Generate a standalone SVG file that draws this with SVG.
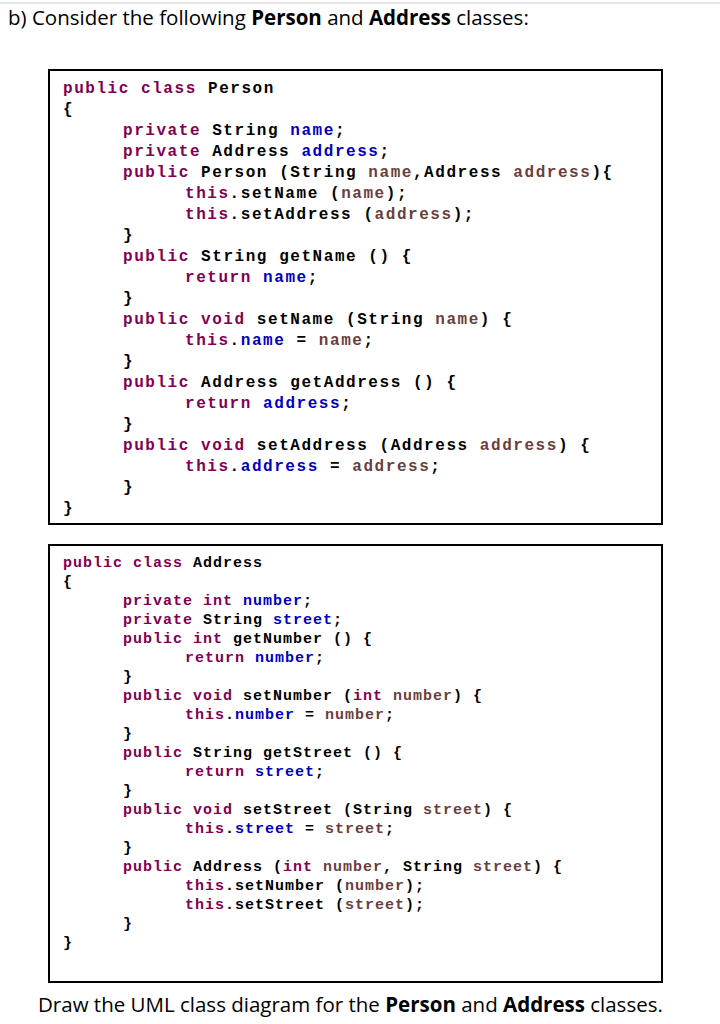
<svg xmlns="http://www.w3.org/2000/svg" width="720" height="1024" viewBox="0 0 720 1024">
<style>
.h{font-family:"Open Sans","Liberation Sans",sans-serif;font-size:20.5px;fill:#000}
.c1{font-family:"Liberation Mono","Courier New",monospace;font-weight:bold;font-size:16px;letter-spacing:1.55px;fill:#000}
.c2{font-family:"Liberation Mono","Courier New",monospace;font-weight:bold;font-size:15px;letter-spacing:1px;fill:#000}
.k{fill:#7f0055}.f{fill:#0000c0}.p{fill:#6a3e3e}
.box{fill:#fff;stroke:#000;stroke-width:2}
</style>
<rect width="720" height="1024" fill="#fff"/>
<line x1="0" y1="3" x2="720" y2="3" stroke="#ccc" stroke-width="1"/>
<text class="h" x="8" y="25">b) Consider the following <tspan font-weight="bold">Person</tspan> and <tspan font-weight="bold">Address</tspan> classes:</text>
<g id="person">
<rect class="box" x="49" y="70" width="613" height="454"/>
<g class="c1">
<text x="63" y="93"><tspan class="k">public class</tspan> Person</text>
<text x="63" y="114">{</text>
<text x="123" y="135"><tspan class="k">private</tspan> String <tspan class="f">name</tspan>;</text>
<text x="123" y="156"><tspan class="k">private</tspan> Address <tspan class="f">address</tspan>;</text>
<text x="123" y="177"><tspan class="k">public</tspan> Person (String <tspan class="p">name</tspan>,Address <tspan class="p">address</tspan>){</text>
<text x="185" y="198"><tspan class="k">this</tspan>.setName (<tspan class="p">name</tspan>);</text>
<text x="185" y="219"><tspan class="k">this</tspan>.setAddress (<tspan class="p">address</tspan>);</text>
<text x="123" y="240">}</text>
<text x="123" y="261"><tspan class="k">public</tspan> String getName () {</text>
<text x="185" y="282"><tspan class="k">return</tspan> <tspan class="f">name</tspan>;</text>
<text x="123" y="303">}</text>
<text x="123" y="324"><tspan class="k">public void</tspan> setName (String <tspan class="p">name</tspan>) {</text>
<text x="185" y="345"><tspan class="k">this</tspan>.<tspan class="f">name</tspan> = <tspan class="p">name</tspan>;</text>
<text x="123" y="366">}</text>
<text x="123" y="387"><tspan class="k">public</tspan> Address getAddress () {</text>
<text x="185" y="408"><tspan class="k">return</tspan> <tspan class="f">address</tspan>;</text>
<text x="123" y="429">}</text>
<text x="123" y="450"><tspan class="k">public void</tspan> setAddress (Address <tspan class="p">address</tspan>) {</text>
<text x="185" y="471"><tspan class="k">this</tspan>.<tspan class="f">address</tspan> = <tspan class="p">address</tspan>;</text>
<text x="123" y="492">}</text>
<text x="63" y="513">}</text>
</g>
</g>
<g id="address">
<rect class="box" x="49" y="545" width="613" height="437"/>
<g class="c2">
<text x="63" y="567"><tspan class="k">public class</tspan> Address</text>
<text x="63" y="586">{</text>
<text x="123" y="605"><tspan class="k">private int</tspan> <tspan class="f">number</tspan>;</text>
<text x="123" y="624"><tspan class="k">private</tspan> String <tspan class="f">street</tspan>;</text>
<text x="123" y="643"><tspan class="k">public int</tspan> getNumber () {</text>
<text x="185" y="662"><tspan class="k">return</tspan> <tspan class="f">number</tspan>;</text>
<text x="123" y="681">}</text>
<text x="123" y="700"><tspan class="k">public void</tspan> setNumber (<tspan class="k">int</tspan> <tspan class="p">number</tspan>) {</text>
<text x="185" y="719"><tspan class="k">this</tspan>.<tspan class="f">number</tspan> = <tspan class="p">number</tspan>;</text>
<text x="123" y="738">}</text>
<text x="123" y="757"><tspan class="k">public</tspan> String getStreet () {</text>
<text x="185" y="776"><tspan class="k">return</tspan> <tspan class="f">street</tspan>;</text>
<text x="123" y="795">}</text>
<text x="123" y="814"><tspan class="k">public void</tspan> setStreet (String <tspan class="p">street</tspan>) {</text>
<text x="185" y="833"><tspan class="k">this</tspan>.<tspan class="f">street</tspan> = <tspan class="p">street</tspan>;</text>
<text x="123" y="852">}</text>
<text x="123" y="871"><tspan class="k">public</tspan> Address (<tspan class="k">int</tspan> <tspan class="p">number</tspan>, String <tspan class="p">street</tspan>) {</text>
<text x="185" y="890"><tspan class="k">this</tspan>.setNumber (<tspan class="p">number</tspan>);</text>
<text x="185" y="909"><tspan class="k">this</tspan>.setStreet (<tspan class="p">street</tspan>);</text>
<text x="123" y="928">}</text>
<text x="63" y="947">}</text>
</g>
</g>
<text class="h" x="38" y="1012">Draw the UML class diagram for the <tspan font-weight="bold">Person</tspan> and <tspan font-weight="bold">Address</tspan> classes.</text>
</svg>
